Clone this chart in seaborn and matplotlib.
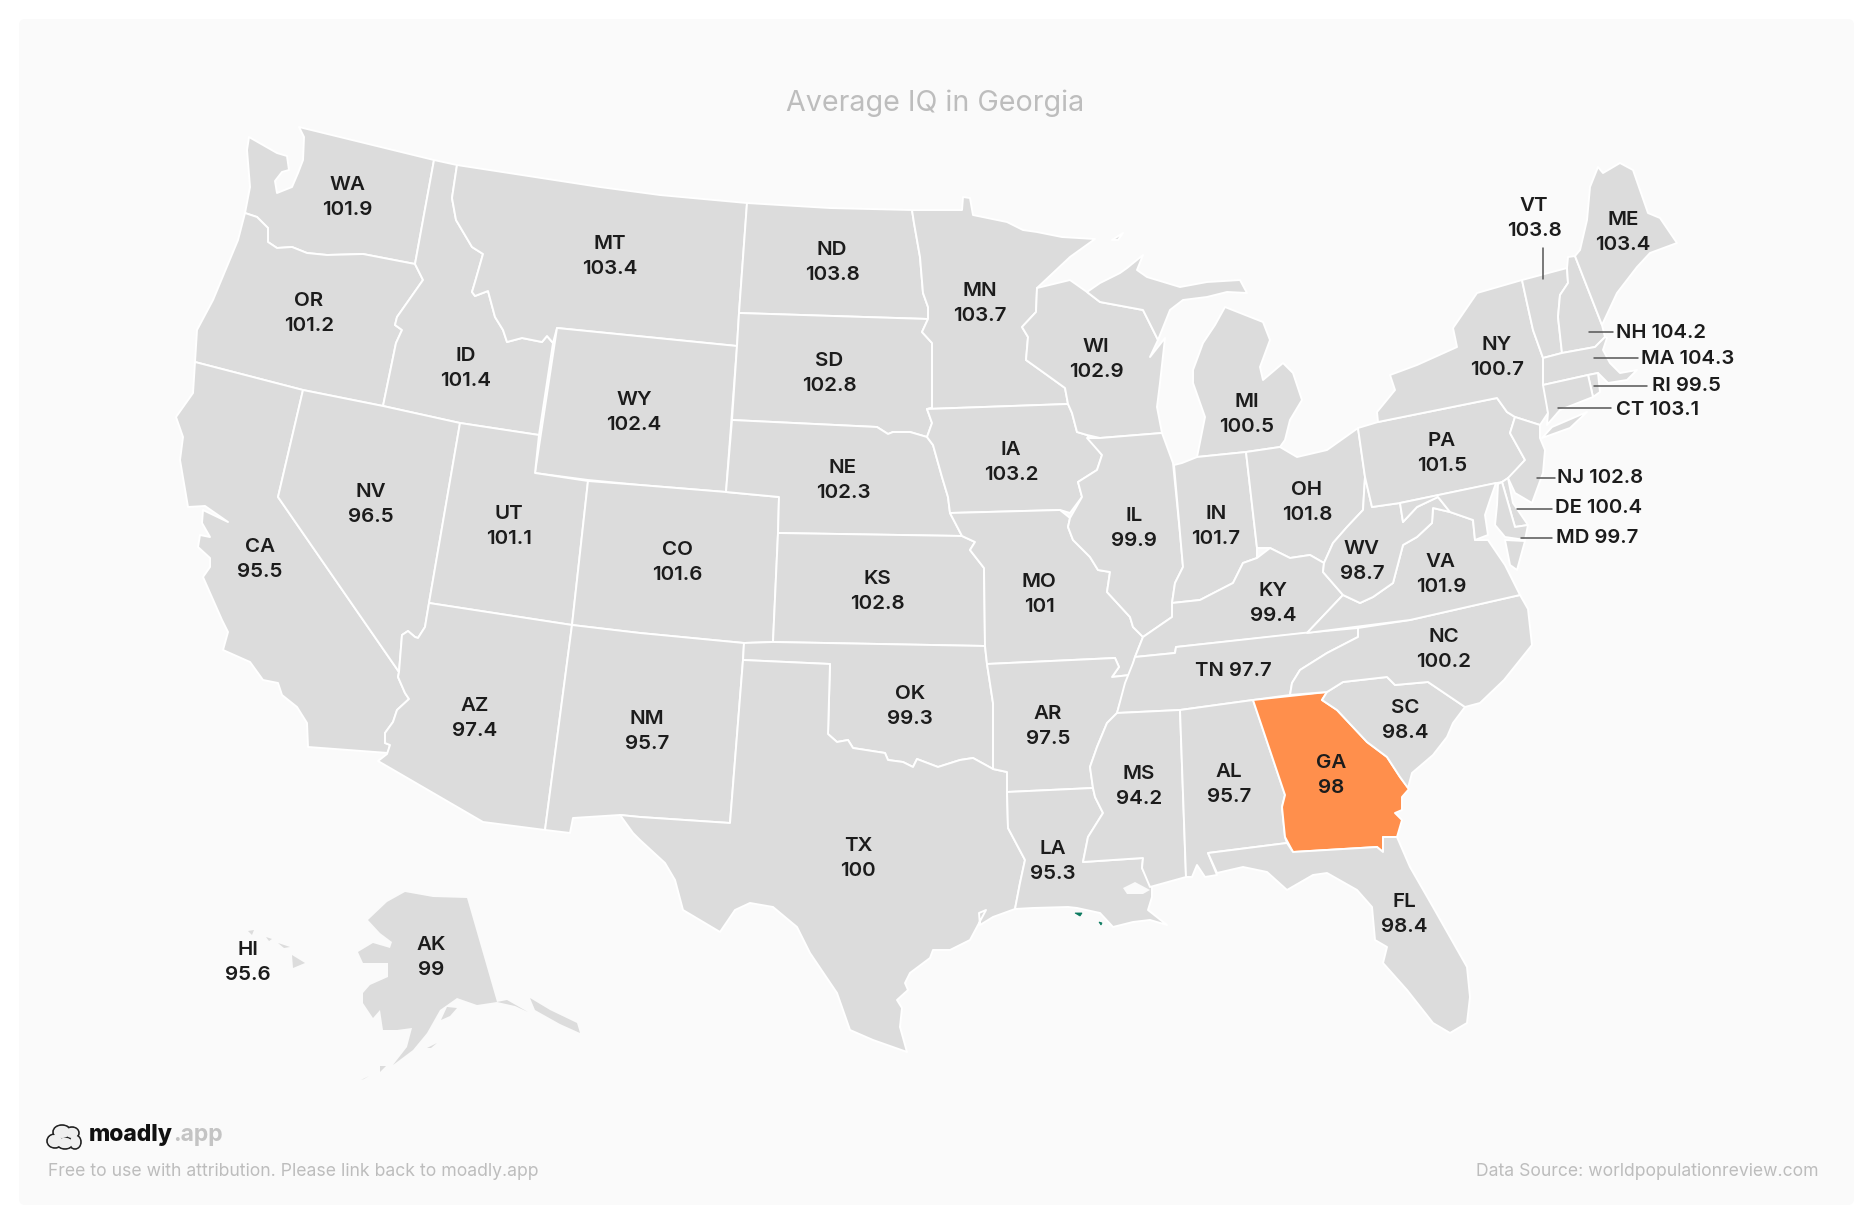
import matplotlib
matplotlib.use("Agg")
import matplotlib.pyplot as plt
from matplotlib.patches import FancyBboxPatch, Ellipse
import seaborn as sns

TITLE = "Average IQ in Georgia"
STATE_CODES = ["WA","OR","CA","ID","NV","MT","WY","UT","AZ","CO","NM","ND","SD","NE","KS","OK","TX",
               "MN","IA","MO","AR","LA","WI","IL","MI","IN","OH","KY","TN","MS","AL","GA","FL","SC",
               "NC","VA","WV","PA","NY","VT","NH","ME","MA","RI","CT","NJ","DE","MD","AK","HI"]
IQ_VALUES = [101.9,101.2,95.5,101.4,96.5,103.4,102.4,101.1,97.4,101.6,95.7,103.8,102.8,102.3,102.8,99.3,100,
             103.7,103.2,101,97.5,95.3,102.9,99.9,100.5,101.7,101.8,99.4,97.7,94.2,95.7,98,98.4,98.4,
             100.2,101.9,98.7,101.5,100.7,103.8,104.2,103.4,104.3,99.5,103.1,102.8,100.4,99.7,99,95.6]
HIGHLIGHT = "GA"
SINGLE_LINE = ["TN"]
CALLOUTS = ["NH","MA","RI","CT","NJ","DE","MD"]
BORDERLESS = ["AK","HI"]

# State outlines, in its pixel coordinates
OUTLINES = {
 "WA": [[(299,127),(434,160),(415,264),(363,254),(327,255),(307,253),(292,247),(277,248),(268,242),(268,228),(257,217),(245,213),(250,187),(247,150),(249,137),(277,153),(287,156),(289,170),(282,172),(275,181),(277,193),(292,187),(298,173),(303,160),(304,137)]],
 "OR": [[(245,213),(257,217),(268,228),(268,242),(277,248),(292,247),(307,253),(327,255),(363,254),(415,264),(423,280),(397,317),(395,325),(402,330),(396,343),(383,406),(303,390),(195,362),(197,330),(213,300),(238,240)]],
 "CA": [[(195,362),(303,390),(278,497),(399,672),(398,677),(405,693),(409,699),(397,710),(393,722),(385,733),(385,743),(390,745),(388,753),(308,747),(307,723),(297,707),(282,695),(278,683),(263,680),(250,662),(223,650),(228,632),(222,620),(203,577),(210,567),(210,558),(198,547),(200,535),(210,537),(202,523),(203,510),(228,522),(205,506),(188,507),(180,460),(183,437),(176,417),(193,393)]],
 "ID": [[(434,160),(457,165),(452,198),(456,220),(472,247),(483,254),(475,282),(472,292),(475,296),(488,291),(495,317),(503,330),(507,342),(522,338),(542,342),(547,336),(553,343),(539,435),(460,423),(383,406),(396,343),(402,330),(395,325),(397,317),(423,280),(415,264)]],
 "NV": [[(303,390),(383,406),(460,423),(429,603),(425,627),(418,638),(415,637),(408,631),(402,635),(399,672),(278,497)]],
 "MT": [[(457,165),(600,187),(660,195),(747,203),(739,313),(737,346),(557,328),(553,343),(547,336),(542,342),(522,338),(507,342),(503,330),(495,317),(488,291),(475,296),(472,292),(475,282),(483,254),(472,247),(456,220),(452,198)]],
 "WY": [[(557,328),(737,346),(726,492),(640,485),(588,480),(535,473)]],
 "UT": [[(460,423),(539,435),(535,473),(588,481),(572,625),(429,603)]],
 "AZ": [[(429,603),(572,625),(545,830),(483,822),(378,761),(387,754),(390,745),(385,743),(385,733),(393,722),(397,710),(409,699),(405,693),(398,677),(399,672),(402,635),(408,631),(415,637),(418,638),(425,627)]],
 "CO": [[(588,481),(640,485),(726,492),(779,497),(778,533),(773,642),(744,643),(640,633),(572,625)]],
 "NM": [[(572,625),(640,633),(744,643),(743,660),(730,823),(640,817),(620,815),(573,818),(570,833),(545,830)]],
 "ND": [[(747,203),(830,208),(912,210),(914,223),(920,257),(923,293),(928,307),(928,319),(739,313)]],
 "SD": [[(739,313),(928,319),(922,332),(932,343),(932,408),(927,409),(932,423),(927,437),(910,432),(893,432),(888,434),(877,427),(732,420),(737,346)]],
 "NE": [[(732,420),(877,427),(888,434),(893,432),(910,432),(927,437),(933,445),(942,477),(948,497),(950,513),(962,536),(778,533),(779,497),(726,492)]],
 "KS": [[(778,533),(962,536),(975,542),(970,550),(984,568),(985,646),(773,642)]],
 "OK": [[(744,643),(773,642),(985,646),(987,664),(993,703),(993,769),(973,758),(960,760),(938,767),(917,759),(913,767),(903,762),(888,760),(885,753),(853,748),(848,740),(837,742),(828,734),(830,664),(743,660)]],
 "TX": [[(743,660),(830,664),(828,734),(837,742),(848,740),(853,748),(885,753),(888,760),(903,762),(913,767),(917,759),(938,767),(960,760),(973,758),(993,769),(1007,772),(1007,792),(1008,828),(1025,860),(1020,883),(1015,909),(993,917),(980,925),(979,913),(986,910),(970,940),(950,950),(933,950),(930,958),(910,973),(905,983),(908,990),(897,1000),(902,1008),(900,1027),(907,1052),(873,1040),(850,1030),(837,993),(810,953),(797,927),(773,907),(750,903),(735,910),(720,932),(683,910),(675,880),(665,863),(640,840),(633,833),(620,815),(640,817),(730,823)]],
 "MN": [[(912,210),(962,210),(963,197),(970,198),(973,215),(1007,222),(1023,230),(1037,232),(1062,237),(1095,239),(1070,257),(1037,288),(1036,312),(1022,327),(1028,337),(1026,360),(1047,375),(1065,388),(1068,404),(927,409),(932,408),(932,343),(922,332),(928,319),(928,307),(923,293),(920,257),(914,223)]],
 "IA": [[(927,409),(1068,404),(1072,413),(1077,432),(1087,435),(1102,455),(1097,470),(1078,482),(1082,497),(1070,513),(1060,510),(950,513),(948,497),(942,477),(933,445),(927,437),(932,423)]],
 "MO": [[(950,513),(1060,510),(1070,518),(1068,527),(1073,540),(1090,557),(1098,570),(1110,572),(1107,592),(1130,617),(1133,627),(1143,637),(1135,657),(1130,675),(1112,677),(1119,667),(1115,658),(987,664),(985,646),(984,568),(970,550),(975,542),(962,536)]],
 "AR": [[(987,664),(1115,658),(1119,667),(1112,677),(1130,675),(1120,703),(1117,713),(1107,723),(1097,747),(1090,767),(1093,788),(1007,792),(1007,772),(993,769),(993,703)]],
 "LA": [[(1007,792),(1093,788),(1095,797),(1103,813),(1088,837),(1083,862),(1143,858),(1142,868),(1152,887),(1152,897),(1148,910),(1167,925),(1150,920),(1133,922),(1113,927),(1100,913),(1077,908),(1068,907),(1033,908),(1015,909),(1020,883),(1025,860),(1008,828)]],
 "WI": [[(1037,288),(1070,280),(1087,292),(1100,302),(1143,310),(1153,330),(1158,340),(1150,357),(1165,338),(1160,383),(1157,407),(1162,433),(1100,438),(1087,435),(1077,432),(1072,413),(1068,404),(1065,388),(1047,375),(1026,360),(1028,337),(1022,327),(1036,312)]],
 "IL": [[(1087,438),(1100,438),(1162,433),(1173,463),(1180,533),(1183,567),(1175,583),(1172,603),(1172,617),(1143,637),(1133,627),(1130,617),(1107,592),(1110,572),(1098,570),(1090,557),(1073,540),(1068,527),(1070,518),(1082,497),(1078,482),(1097,470),(1102,455)]],
 "MI": [[(1087,292),(1100,283),(1120,273),(1127,268),(1143,255),(1137,270),(1147,277),(1180,287),(1207,282),(1240,280),(1247,293),(1227,292),(1207,297),(1183,300),(1170,310),(1158,340),(1153,330),(1143,310),(1100,302)],
        [(1225,307),(1263,322),(1270,340),(1260,367),(1263,380),(1283,363),(1293,373),(1302,400),(1290,420),(1285,440),(1280,447),(1246,452),(1197,457),(1205,417),(1193,383),(1193,370),(1203,343),(1215,325)],
        [(1112,240),(1123,233),(1118,240)]],
 "IN": [[(1174,465),(1182,463),(1197,457),(1246,452),(1257,548),(1257,558),(1243,563),(1233,583),(1200,600),(1172,603),(1175,583),(1183,567),(1180,533)]],
 "OH": [[(1246,452),(1280,447),(1297,457),(1327,450),(1358,428),(1365,477),(1363,510),(1347,527),(1333,543),(1324,563),(1310,555),(1290,558),(1270,548),(1257,548)]],
 "KY": [[(1257,558),(1270,548),(1290,558),(1310,555),(1324,563),(1323,572),(1343,595),(1307,633),(1176,647),(1175,653),(1135,657),(1143,637),(1172,617),(1172,603),(1200,600),(1233,583),(1243,563)]],
 "TN": [[(1135,657),(1175,653),(1176,647),(1303,633),(1358,628),(1358,637),(1327,653),(1300,670),(1292,683),(1290,695),(1253,700),(1180,710),(1117,713),(1125,683),(1133,663)]],
 "MS": [[(1117,713),(1180,710),(1186,877),(1150,887),(1142,868),(1143,858),(1083,862),(1088,837),(1103,813),(1095,797),(1093,788),(1090,767),(1097,747),(1107,723)]],
 "AL": [[(1180,710),(1253,700),(1285,795),(1282,807),(1285,837),(1287,843),(1208,853),(1217,875),(1205,877),(1197,865),(1192,877),(1186,877)]],
 "GA": [[(1253,700),(1327,692),(1322,700),(1337,710),(1367,742),(1387,757),(1400,777),(1409,789),(1402,797),(1402,810),(1395,813),(1402,820),(1397,837),(1383,837),(1383,852),(1377,847),(1293,852),(1285,837),(1282,807),(1285,795)]],
 "FL": [[(1208,853),(1287,843),(1293,852),(1377,847),(1383,852),(1383,837),(1397,837),(1410,867),(1433,907),(1467,967),(1470,997),(1467,1023),(1450,1033),(1433,1023),(1407,990),(1383,963),(1387,947),(1375,940),(1372,907),(1357,890),(1327,873),(1313,875),(1287,890),(1267,872),(1243,867),(1217,873)]],
 "SC": [[(1327,692),(1343,682),(1387,677),(1395,685),(1428,682),(1465,707),(1453,723),(1447,737),(1433,755),(1412,773),(1408,788),(1400,777),(1387,757),(1367,742),(1337,710),(1322,700)]],
 "NC": [[(1358,628),(1410,620),(1520,595),(1528,609),(1532,645),(1504,680),(1480,703),(1465,707),(1428,682),(1395,685),(1387,677),(1343,682),(1327,692),(1290,695),(1292,683),(1300,670),(1327,653),(1358,637)]],
 "VA": [[(1307,633),(1343,595),(1360,603),(1373,597),(1393,583),(1403,545),(1417,537),(1432,523),(1433,508),(1450,512),(1473,520),(1475,540),(1488,540),(1505,565),(1520,595),(1410,620)],
        [(1505,540),(1525,541),(1517,570),(1510,565)]],
 "WV": [[(1365,477),(1372,507),(1400,503),(1403,522),(1417,507),(1438,497),(1450,512),(1433,508),(1432,523),(1417,537),(1403,545),(1393,583),(1373,597),(1360,603),(1343,595),(1323,572),(1324,563),(1333,543),(1347,527),(1363,510)]],
 "PA": [[(1358,428),(1378,422),(1497,398),(1507,412),(1515,417),(1510,433),(1525,460),(1510,477),(1502,482),(1400,503),(1372,507),(1365,477)]],
 "NY": [[(1378,422),(1377,412),(1395,390),(1390,375),(1417,365),(1457,347),(1453,328),(1477,293),(1522,280),(1527,303),(1533,330),(1543,358),(1548,413),(1540,425),(1515,417),(1507,412),(1497,398)],
        [(1542,438),(1552,427),(1587,412),(1570,428)]],
 "VT": [[(1522,280),(1567,268),(1568,283),(1560,295),(1558,317),(1562,353),(1543,358),(1533,330),(1527,303)]],
 "NH": [[(1568,257),(1575,256),(1602,325),(1605,337),(1595,347),(1562,353),(1558,317),(1560,295),(1568,283),(1567,268)]],
 "ME": [[(1575,256),(1580,250),(1587,220),(1590,187),(1598,167),(1603,173),(1620,163),(1633,170),(1648,213),(1660,218),(1677,243),(1650,253),(1637,267),(1617,293),(1602,325)]],
 "MA": [[(1543,358),(1562,353),(1595,347),(1605,337),(1607,338),(1603,350),(1610,363),(1620,373),(1637,370),(1627,380),(1608,383),(1598,373),(1588,375),(1543,385)]],
 "RI": [[(1588,375),(1598,373),(1600,392),(1593,397)]],
 "CT": [[(1543,385),(1588,375),(1593,397),(1560,410),(1547,425),(1548,413)]],
 "NJ": [[(1515,417),(1540,425),(1540,438),(1545,450),(1543,473),(1532,503),(1515,493),(1508,478),(1525,460),(1510,433)]],
 "DE": [[(1502,482),(1508,478),(1513,503),(1528,525),(1515,527)]],
 "MD": [[(1400,503),(1496,483),(1490,500),(1485,515),(1488,535),(1475,540),(1473,520),(1450,512),(1438,497),(1417,507),(1403,522)],
        [(1498,484),(1502,482),(1515,527),(1528,525),(1525,540),(1505,537),(1495,525),(1497,505)]],
 "AK": [[(467,898),(497,1002),(477,1005),(457,998),(440,1010),(427,1033),(413,1050),(393,1065),(407,1047),(412,1028),(397,1030),(383,1030),(380,1010),(373,1018),(363,1003),(363,993),(370,985),(388,977),(388,963),(363,963),(358,952),(373,943),(390,948),(392,942),(380,933),(368,920),(387,902),(405,892),(433,897)],
        [(441,1020),(447,1007),(457,1008),(450,1016)],
        [(497,1002),(507,1000),(528,1012),(515,1006)],
        [(530,998),(550,1010),(577,1023),(580,1033),(560,1024),(535,1010)],
        [(380,1072),(386,1066),(380,1066)],[(361,1080),(369,1076),(364,1079)],[(427,1048),(437,1043),(431,1048)]],
 "HI": [[(292,955),(305,963),(293,968)],[(248,931),(254,930),(252,935)],[(266,937),(272,939),(269,941)],[(278,943),(290,947),(284,948)]],
}
WATER = [[(1123,888),(1135,882),(1150,890),(1143,894),(1127,894)]]
WETLAND = [[(1075,913),(1082,913),(1080,916)],[(1099,922),(1102,923),(1101,925)]]

LABEL_POS = dict(WA=(347,195),OR=(309,311),ID=(466,366),MT=(610,254),WY=(634,410),NV=(371,502),CA=(260,557),
    UT=(509,524),AZ=(475,716),NM=(647,729),CO=(677,560),ND=(832,260),SD=(829,371),NE=(843,478),MN=(980,301),
    IA=(1011,460),WI=(1096,357),KS=(877,589),MO=(1039,592),OK=(910,704),AR=(1048,724),TX=(858,856),LA=(1053,859),
    MI=(1247,412),IL=(1134,526),IN=(1216,524),OH=(1307,500),KY=(1273,601),WV=(1362,559),VA=(1441,572),PA=(1442,451),
    NY=(1497,355),VT=(1534,216),ME=(1623,230),NC=(1444,647),SC=(1405,718),GA=(1331,773),AL=(1229,782),MS=(1139,784),
    FL=(1404,912),TN=(1233,670),HI=(248,960),AK=(431,955),
    NH=(1616,332),MA=(1641,358),RI=(1652,385),CT=(1616,409),NJ=(1557,477),DE=(1555,507),MD=(1556,537))
LEADERS = dict(NH=((1589,1613),(332,332)),MA=((1594,1638),(358,358)),RI=((1594,1647),(386,386)),CT=((1558,1611),(408,408)),
    NJ=((1537,1555),(478,478)),DE=((1517,1552),(509,509)),MD=((1521,1552),(538,538)),VT=((1543,1543),(248,279)))

GRAY, ORANGE, INK, PANEL, MUTED, TEAL = "#dcdcdc", "#ff8f4c", "#1c1c1c", "#fafafa", "#bdbdbd", "#0b7a5f"
LABEL_SIZE = 14.8

sns.set_theme(style="white")
plt.rcParams["font.family"] = ["Inter", "DejaVu Sans"]
fig = plt.figure(figsize=(18.72, 12.24), dpi=100, facecolor="white")
ax = fig.add_axes([0, 0, 1, 1])
ax.set_xlim(0, 1872); ax.set_ylim(1224, 0)

ax.add_patch(FancyBboxPatch((19, 19), 1835, 1186, boxstyle="round,pad=0,rounding_size=6", fc=PANEL, ec="none", zorder=0))

for code in STATE_CODES:
    for part in OUTLINES[code]:
        xs, ys = zip(*part)
        edge = "none" if code in BORDERLESS else "white"
        ax.fill(xs, ys, fc=ORANGE if code == HIGHLIGHT else GRAY, ec=edge, lw=1.4, joinstyle="round", zorder=2)
for part in WATER:
    ax.fill(*zip(*part), fc=PANEL, ec="none", zorder=3)
for part in WETLAND:
    ax.fill(*zip(*part), fc=TEAL, ec=TEAL, lw=0.6, zorder=3)

for code, (xs, ys) in LEADERS.items():
    sns.lineplot(x=list(xs), y=list(ys), color="#555555", lw=1.1, sort=False, estimator=None, ax=ax, zorder=4)

for code, val in zip(STATE_CODES, IQ_VALUES):
    x, y = LABEL_POS[code]
    if code in CALLOUTS:
        ax.text(x, y + 1, f"{code} {val:g}", ha="left", va="center", fontsize=LABEL_SIZE - 0.2, color=INK, fontweight="semibold", zorder=5)
    elif code in SINGLE_LINE:
        ax.text(x, y + 1, f"{code} {val:g}", ha="center", va="center", fontsize=LABEL_SIZE - 0.2, color=INK, fontweight="semibold", zorder=5)
    else:
        ax.text(x, y + 2.5, f"{code}\n{val:g}", ha="center", va="center", fontsize=LABEL_SIZE, color=INK, fontweight="semibold",
                linespacing=1.46, zorder=5)

ax.text(935, 103, TITLE, ha="center", va="center", fontsize=20.6, color=MUTED)

# brand mark
LUMPS = [(55,1141,16,14),(62,1132,18,14),(72,1133,14,12),(75,1142,12,14),(65,1143,16,12)]
for cx, cy, w, h in LUMPS:
    ax.add_patch(Ellipse((cx, cy), w, h, fc="#efefef", ec="#222222", lw=1.2, zorder=3))
for cx, cy, w, h in LUMPS:
    ax.add_patch(Ellipse((cx, cy), w - 2, h - 2, fc="#efefef", ec="none", zorder=4))
t1 = ax.text(89, 1135, "moadly", ha="left", va="center", fontsize=16.5, color="#111111", fontweight="heavy")
ax.annotate(".app", xy=(1, 0.5), xycoords=t1, ha="left", va="center", fontsize=16.5, color="#c4c4c4", fontweight="bold")
ax.text(48, 1172, "Free to use with attribution. Please link back to moadly.app", ha="left", va="center",
        fontsize=12.7, color=MUTED)
ax.text(1818, 1172, "Data Source: worldpopulationreview.com", ha="right", va="center", fontsize=12.65, color=MUTED)

ax.set_xlabel(""); ax.set_ylabel("")
ax.set_axis_off()
sns.despine(ax=ax, left=True, bottom=True)
fig.savefig("out.png", dpi=100, facecolor="white")
